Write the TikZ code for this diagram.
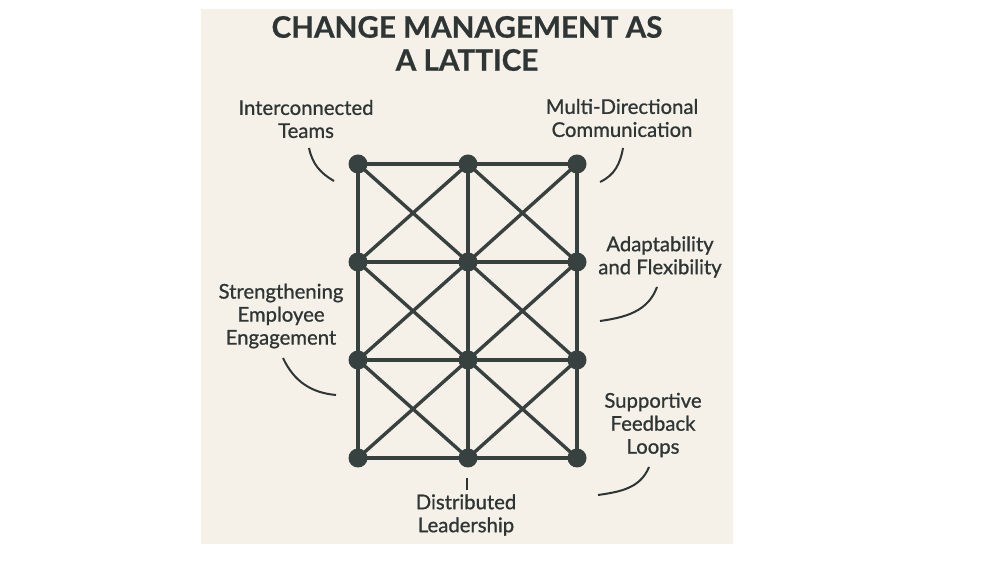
\documentclass[tikz,border=0pt]{standalone}
\usepackage{fontspec}
\setmainfont{Lato}
\newfontfamily\lblfont{Lato}[FakeBold=0.9]
\newfontfamily\ttlfont{Lato Bold}[FakeBold=0.7]
\definecolor{bgbeige}{HTML}{F6F1E8}
\definecolor{latt}{HTML}{374140}
\definecolor{txt}{HTML}{2E3535}
\begin{document}
\begin{tikzpicture}[x=1pt,y=1pt,
  dot/.style={circle,fill=latt,inner sep=0pt,minimum size=19pt},
  edge/.style={draw=latt,line width=3.4pt},
  lbl/.style={align=center,text=txt,font=\lblfont\fontsize{20.3}{23}\selectfont},
  lead/.style={draw=txt,line width=2pt},
  ttl/.style={align=center,text=txt,font=\ttlfont\fontsize{29.6}{33}\selectfont}]
\useasboundingbox[fill=white] (0,0) rectangle (1006,565);
\fill[bgbeige] (201,21) rectangle (733,556);
\node[ttl] (title) at (467,521.5) {CHANGE MANAGEMENT AS\\A LATTICE};
% lattice nodes
\foreach \c/\x in {1/358,2/468,3/577}{
  \foreach \r/\y in {1/401,2/303,3/205,4/107}{
    \coordinate (p\c\r) at (\x,\y);
  }
}
% edges
\foreach \r in {1,2,3,4}{
  \draw[edge] (p1\r) -- (p2\r) -- (p3\r);
}
\foreach \c in {1,2,3}{
  \draw[edge] (p\c1) -- (p\c2) -- (p\c3) -- (p\c4);
}
\foreach \c/\d in {1/2,2/3}{
  \foreach \r/\s in {1/2,2/3,3/4}{
    \draw[edge] (p\c\r) -- (p\d\s);
    \draw[edge] (p\d\r) -- (p\c\s);
  }
}
\foreach \c in {1,2,3}{
  \foreach \r in {1,2,3,4}{
    \node[dot] (n\c\r) at (p\c\r) {};
  }
}
% labels
\node[lbl] (l1) at (306,446) {Interconnected\\Teams};
\node[lbl] (l2) at (622,447) {Multi-Directional\\Communication};
\node[lbl] (l3) at (660,308) {Adaptability\\and Flexibility};
\node[lbl] (l4) at (281,249) {Strengthening\\Employee\\Engagement};
\node[lbl] (l5) at (653,140) {Supportive\\Feedback\\Loops};
\node[lbl] (l6) at (466,50) {Distributed\\Leadership};
% leader arcs
\coordinate (a1s) at (309,417); \coordinate (a1e) at (334,384);
\coordinate (a2s) at (623,417); \coordinate (a2e) at (600,383);
\coordinate (a3s) at (283,207); \coordinate (a3e) at (336,170);
\coordinate (a4s) at (657,278); \coordinate (a4e) at (600,244);
\coordinate (a5s) at (649,98);  \coordinate (a5e) at (598,70);
\coordinate (a6s) at (467,87);  \coordinate (a6e) at (467,75);
\draw[lead] (a1s) to[out=-78,in=150] (a1e);
\draw[lead] (a2s) to[out=-100,in=25] (a2e);
\draw[lead] (a3s) to[out=-65,in=175] (a3e);
\draw[lead] (a4s) to[out=-110,in=8] (a4e);
\draw[lead] (a5s) to[out=-112,in=8] (a5e);
\draw[lead] (a6s) -- (a6e);
\end{tikzpicture}
\end{document}
